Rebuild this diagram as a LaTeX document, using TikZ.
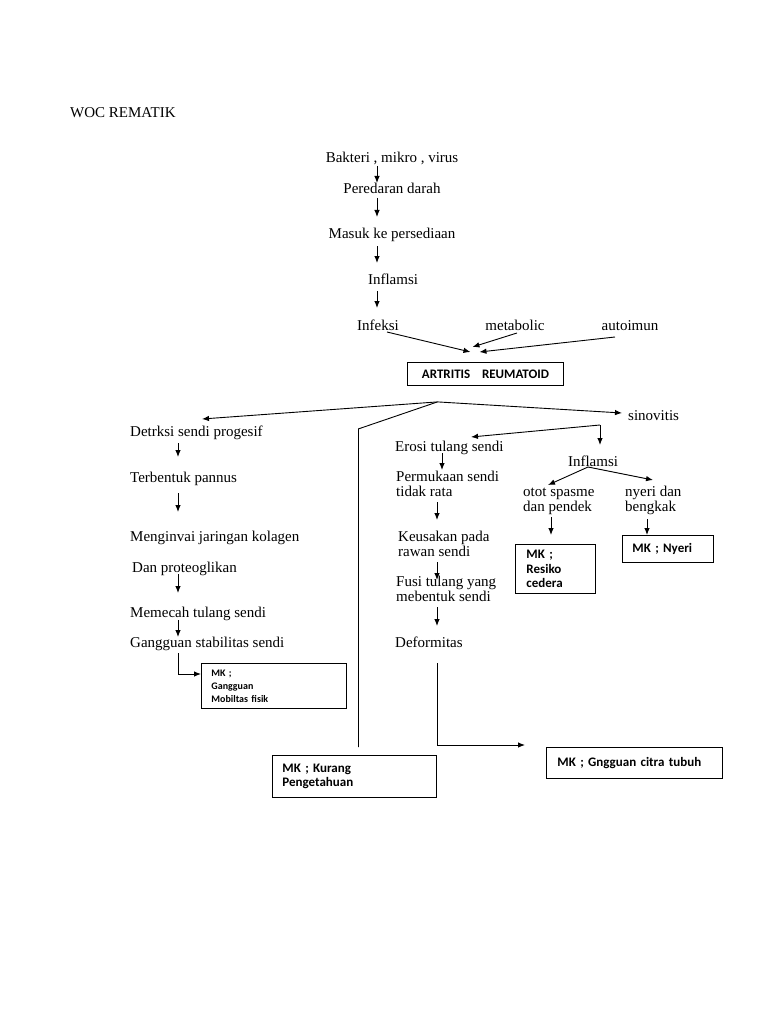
\documentclass[tikz,border=0pt]{standalone}
\usepackage{fontspec}
\setmainfont{Liberation Serif}
\newfontfamily\boxfont{Carlito}
\usetikzlibrary{arrows.meta,calc}
\begin{document}
\begin{tikzpicture}[x=1pt,y=-1pt,
  txt/.style={inner sep=0pt,font=\fontsize{15}{15}\selectfont,align=left},
  mbox/.style={draw,line width=0.9pt,anchor=north west,align=left,inner ysep=0pt,font=\boxfont\bfseries\fontsize{13}{14}\selectfont},
  ln/.style={line width=0.9pt},
  arr/.style={ln,-{Latex[length=7pt,width=5.5pt]}}]
\useasboundingbox[fill=white] (0,0) rectangle (768,1024);
% top chain
\node[txt,anchor=base west] (title) at (70,118) {WOC REMATIK};
\node[txt,anchor=base] (n1) at (392,163) {Bakteri , mikro , virus};
\node[txt,anchor=base] (n2) at (392,194) {Peredaran darah};
\node[txt,anchor=base] (n3) at (392,239) {Masuk ke persediaan};
\node[txt,anchor=base] (n4) at (393,284) {Inflamsi};
\node[txt,anchor=base] (inf) at (378,330) {Infeksi};
\node[txt,anchor=base] (met) at (515,330) {metabolic};
\node[txt,anchor=base] (aut) at (630,330) {autoimun};
\node[mbox,align=center,minimum width=156,minimum height=23,inner xsep=0pt] (ar) at (407,362) {ARTRITIS\hspace{0.9em}REUMATOID};
\node[txt,anchor=base west] (sin) at (628,420) {sinovitis};
% left column
\node[txt,anchor=base west] (L1) at (130,436) {Detrksi sendi progesif};
\node[txt,anchor=base west] (L2) at (130,482) {Terbentuk pannus};
\node[txt,anchor=base west] (L3) at (130,541) {Menginvai jaringan kolagen};
\node[txt,anchor=base west] (L4) at (132,572) {Dan proteoglikan};
\node[txt,anchor=base west] (L5) at (130,617) {Memecah tulang sendi};
\node[txt,anchor=base west] (L6) at (130,647) {Gangguan stabilitas sendi};
\node[mbox,text width=125,inner xsep=10,minimum height=45,font=\boxfont\bfseries\fontsize{10}{13}\selectfont] (B1) at (201,663) {MK ;\\Gangguan\\Mobiltas fisik};
% middle column (multi-line nodes: base = last line)
\node[txt,anchor=base west] (M1) at (395,451) {Erosi tulang sendi};
\node[txt,anchor=base west] (M2) at (396,496) {Permukaan sendi\\tidak rata};
\node[txt,anchor=base west] (M3) at (398,556) {Keusakan pada\\rawan sendi};
\node[txt,anchor=base west] (M4) at (396,601) {Fusi tulang yang\\mebentuk sendi};
\node[txt,anchor=base west] (M5) at (395,647) {Deformitas};
\node[mbox,text width=144,inner xsep=10,minimum height=42] (B2) at (272,755) {MK ; Kurang\\Pengetahuan};
\node[mbox,text width=154,inner xsep=11,minimum height=31] (B3) at (546,747) {MK ; Gngguan citra tubuh};
% right column
\node[txt,anchor=base] (R1) at (593,466) {Inflamsi};
\node[txt,anchor=base west] (R2) at (523,511) {otot spasme\\dan pendek};
\node[txt,anchor=base west] (R3) at (625,511) {nyeri dan\\bengkak};
\node[mbox,text width=58,inner xsep=11,minimum height=49,font=\boxfont\bfseries\fontsize{13}{14.5}\selectfont] (B4) at (515,544) {MK ;\\Resiko\\cedera};
\node[mbox,text width=71,inner xsep=10,minimum height=27] (B5) at (622,535) {MK ; Nyeri};
% coordinates
\coordinate (J) at ($(ar.south)+(-48,16)$);
\coordinate (K) at ($(J)+(-79,27)$);
\coordinate (S) at ($(sin.base west)+(-28,5)$);
% top chain arrows
\draw[arr] ($(n1.base)+(-15,3)$) -- ($(n2.base)+(-15,-11)$);
\draw[arr] ($(n2.base)+(-15,4)$) -- ($(n3.base)+(-15,-22)$);
\draw[arr] ($(n3.base)+(-15,7)$) -- ($(n4.base)+(-16,-21)$);
\draw[arr] ($(n4.base)+(-16,7)$) -- ($(inf.base)+(-1,-22)$);
\draw[arr] ($(inf.base)+(9,2)$) -- ($(ar.north)+(-15,-10)$);
\draw[arr] ($(met.base)+(2,3)$) -- ($(ar.north)+(-13,-15)$);
\draw[arr] ($(aut.base)+(-15,7)$) -- ($(ar.north)+(-6,-10)$);
% from junction
\draw[arr] (J) -- ($(L1.base west)+(72,-17)$);
\draw[arr] (J) -- ($(sin.base west)+(-6,-7)$);
\draw[ln] (J) -- (K) -- ($(B2.north)+(4,-8)$);
% left column arrows
\draw[arr] ($(L1.base west)+(48,7)$) -- ($(L2.base west)+(48,-25)$);
\draw[arr] ($(L2.base west)+(48,11)$) -- ($(L3.base west)+(48,-29)$);
\draw[arr] ($(L4.base west)+(46,2)$) -- ($(L5.base west)+(48,-24)$);
\draw[arr] ($(L5.base west)+(48,3)$) -- ($(L6.base west)+(48,-10)$);
\draw[arr] ($(L6.base west)+(48,6)$) |- ($(B1.north west)+(0,11)$);
% sinovitis branch
\draw[arr] (S) -- ($(M1.base west)+(76,-14)$);
\draw[arr] (S) -- ($(R1.base)+(7,-21)$);
% middle column arrows
\draw[arr] ($(M1.base west)+(47,2)$) -- ($(M2.base west)+(46,-26)$);
\draw[arr] ($(M2.base west)+(41,6)$) -- ($(M3.base west)+(39,-36)$);
\draw[arr] ($(M3.base west)+(39,6)$) -- ($(M4.base west)+(41,-21)$);
\draw[arr] ($(M4.base west)+(41,6)$) -- ($(M5.base west)+(42,-21)$);
\draw[arr] ($(M5.base west)+(42,16)$) |- ($(B3.north west)+(-21,-2)$);
% right column arrows
\draw[arr] ($(R1.base)+(-5,1)$) -- ($(R2.base west)+(25,-26)$);
\draw[arr] ($(R1.base)+(-5,1)$) -- ($(R3.base west)+(28,-31)$);
\draw[arr] ($(R2.base west)+(28,6)$) -- ($(B4.north west)+(36,-9)$);
\draw[arr] ($(R3.base west)+(22,8)$) -- ($(B5.north west)+(25,0)$);
\end{tikzpicture}
\end{document}
